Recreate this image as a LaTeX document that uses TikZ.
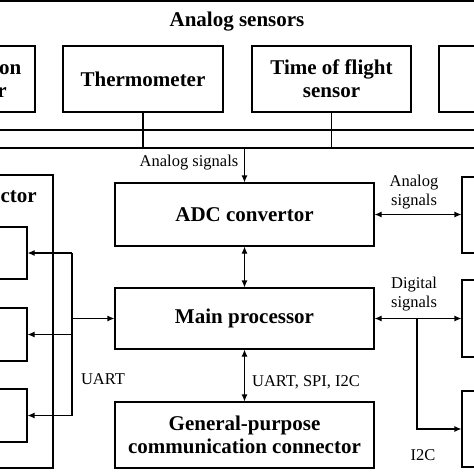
\documentclass[tikz,border=0pt]{standalone}
\usepackage{fontspec}
\setmainfont{Liberation Serif}
\usetikzlibrary{arrows.meta, positioning}

\begin{document}
\begin{tikzpicture}[x=1pt, y=-1pt,
    box/.style = {draw, line width=1.1pt, inner sep=0pt, align=center, font=\fontsize{21}{23}\selectfont\bfseries},
    lbl/.style = {inner sep=0pt, align=center, font=\fontsize{16.5}{19}\selectfont},
    wire/.style = {line width=1.1pt},
    arr/.style = {wire, -{Latex[length=7pt,width=6pt]}},
    darr/.style = {wire, {Latex[length=7pt,width=6pt]}-{Latex[length=7pt,width=6pt]}}]
    \useasboundingbox (0,0) rectangle (474,474);
    \clip (0,0) rectangle (474,474);

    % analog sensors
    \node[box, line width=2pt, minimum width=520pt, minimum height=129pt] (sens) at (237,65.5) {};
    \node[inner sep=0pt, font=\fontsize{21}{23}\selectfont\bfseries] (senstitle) at (237,22) {Analog sensors};
    \node[box, minimum width=160pt, minimum height=66pt] (vib) at (-45,79) {};
    \node[box, draw=none] (vibtxt) at (-22,79) {Vibration\\sensor};
    \node[box, minimum width=160pt, minimum height=66pt] (thermo) at (143,79) {Thermometer};
    \node[box, minimum width=159pt, minimum height=66pt] (tof) at (331.5,79) {Time of flight\\sensor};
    \node[box, minimum width=160pt, minimum height=66pt] (other) at (519,79) {};

    % bus
    \coordinate (busL) at (-10,148);
    \coordinate (busR) at (484,148);
    \draw[wire] (busL) -- (busR);
    \draw[wire] (thermo.south) -- (thermo.south |- busL);
    \draw[wire] (tof.south) -- (tof.south |- busL);

    % processing chain
    \node[box, minimum width=259pt, minimum height=63pt] (adc) at (244.5,214.5) {ADC convertor};
    \node[box, minimum width=259pt, minimum height=61pt] (main) at (244.5,318.5) {Main processor};
    \node[box, minimum width=259pt, minimum height=66pt] (gen) at (244.5,435) {General-purpose\\communication connector};
    \draw[arr] (adc.north |- busL) -- (adc.north);
    \node[lbl] (anin) at (189,163) {Analog signals};
    \draw[darr] (adc) -- (main);
    \draw[darr] (main) -- (gen);
    \node[lbl] (spi) at (306,382) {UART, SPI, I2C};

    % right side
    \node[box, minimum width=160pt, minimum height=76pt] (r1) at (542,215) {};
    \node[box, minimum width=160pt, minimum height=77pt] (r2) at (542,318.5) {};
    \node[box, minimum width=160pt, minimum height=76pt] (r3) at (542,429) {};
    \draw[darr] (adc.east) -- (adc.east -| r1.west);
    \draw[darr] (main.east) -- (main.east -| r2.west);
    \coordinate (i2c) at (417,318.5);
    \draw[arr] (i2c) |- (r3.west);
    \node[lbl] (anout) at (414,192) {Analog\\signals};
    \node[lbl] (digout) at (414,294) {Digital\\signals};
    \node[lbl] (i2clbl) at (423,455) {I2C};

    % left connector
    \node[box, minimum width=160pt, minimum height=293pt] (conn) at (-27,321.5) {};
    \node[inner sep=0pt, anchor=east, font=\fontsize{21}{23}\selectfont\bfseries] (conntitle) at (37,197) {connector};
    \node[box, minimum width=80pt, minimum height=52pt] (p1) at (-13,253) {};
    \node[box, minimum width=80pt, minimum height=53pt] (p2) at (-13,334.5) {};
    \node[box, minimum width=80pt, minimum height=53pt] (p3) at (-13,415.5) {};
    \coordinate (u1) at (72,253);
    \coordinate (u2) at (72,334.5);
    \coordinate (u3) at (72,415.5);
    \coordinate (um) at (72,318.5);
    \draw[wire] (u1) -- (u3);
    \draw[arr] (u1) -- (p1);
    \draw[arr] (u2) -- (p2);
    \draw[arr] (u3) -- (p3);
    \draw[arr] (um) -- (main);
    \node[lbl] (uart) at (103,379) {UART};
\end{tikzpicture}
\end{document}
